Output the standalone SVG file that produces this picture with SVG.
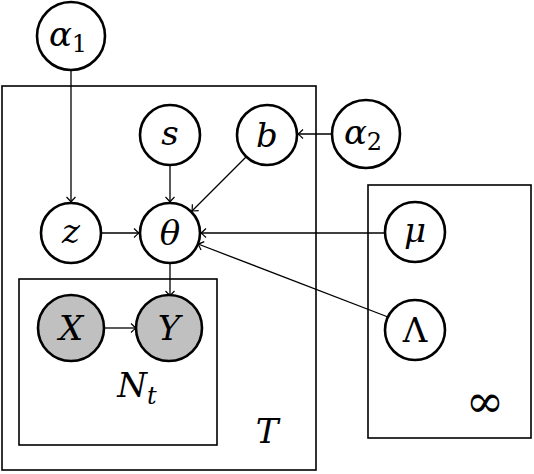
<svg xmlns="http://www.w3.org/2000/svg" width="534" height="474" viewBox="0 0 534 474">
<defs>
<style>
.plate{fill:none;stroke:#000;stroke-width:1.6}
.node{fill:#fff;stroke:#000;stroke-width:2.6}
.obs{fill:#c0c0c0;stroke:#000;stroke-width:2.6}
.edge{fill:none;stroke:#000;stroke-width:1.3}
text{font-family:"DejaVu Serif","Liberation Serif",serif}
.m{font-style:italic;font-size:34px;text-anchor:middle}
.u{font-size:34px;text-anchor:middle}
.inf{font-size:46px;text-anchor:middle}
.sub{font-size:24px;font-style:normal}
.subi{font-size:24px;font-style:italic}
</style>
<marker id="arr" markerWidth="12" markerHeight="12" refX="0" refY="0" viewBox="-6 -6 12 12" orient="auto" markerUnits="userSpaceOnUse">
<path d="M -5 -4.5 Q -1.5 -1 0 0 Q -1.5 1 -5 4.5" fill="none" stroke="#000" stroke-width="1.2"/>
</marker>
</defs>
<g id="plates">
<rect id="plate-T" class="plate" x="2" y="86" width="314" height="384"/>
<rect id="plate-Nt" class="plate" x="19" y="279" width="198" height="166"/>
<rect id="plate-inf" class="plate" x="368" y="185" width="163" height="253"/>
<text class="m" x="267" y="443">T</text>
<text class="m" x="137" y="397">N<tspan class="subi" dy="7">t</tspan></text>
<text class="inf" x="485" y="417">∞</text>
</g>
<g id="connectors">
<line class="edge" x1="71" y1="70" x2="71" y2="202" marker-end="url(#arr)"/>
<line class="edge" x1="170" y1="165" x2="170" y2="202" marker-end="url(#arr)"/>
<line class="edge" x1="246" y1="157" x2="192" y2="211" marker-end="url(#arr)"/>
<line class="edge" x1="332" y1="134" x2="298" y2="134" marker-end="url(#arr)"/>
<line class="edge" x1="101" y1="233" x2="139" y2="233" marker-end="url(#arr)"/>
<line class="edge" x1="385" y1="233" x2="201" y2="233" marker-end="url(#arr)"/>
<line class="edge" x1="388" y1="317" x2="198" y2="244" marker-end="url(#arr)"/>
<line class="edge" x1="170" y1="263" x2="170" y2="296" marker-end="url(#arr)"/>
<line class="edge" x1="104" y1="328" x2="136" y2="328" marker-end="url(#arr)"/>
</g>
<g id="node-alpha1"><circle class="node" cx="71" cy="36" r="34"/><text class="m" x="68" y="46">α<tspan class="sub" dy="6">1</tspan></text></g>
<g id="node-s"><circle class="node" cx="170" cy="135" r="30"/><text class="m" x="170" y="145">s</text></g>
<g id="node-b"><circle class="node" cx="267" cy="135" r="30"/><text class="m" x="267" y="147">b</text></g>
<g id="node-alpha2"><circle class="node" cx="366" cy="134" r="34"/><text class="m" x="363" y="144">α<tspan class="sub" dy="6">2</tspan></text></g>
<g id="node-z"><circle class="node" cx="71" cy="233" r="30"/><text class="m" x="71" y="243">z</text></g>
<g id="node-theta"><circle class="node" cx="170" cy="233" r="30"/><text class="m" x="170" y="245">θ</text></g>
<g id="node-mu"><circle class="node" cx="415" cy="232" r="30"/><text class="m" x="415" y="242">μ</text></g>
<g id="node-Lambda"><circle class="node" cx="415" cy="330" r="30"/><text class="u" x="415" y="342">Λ</text></g>
<g id="node-X"><circle class="obs" cx="71" cy="328" r="33"/><text class="m" x="71" y="340">X</text></g>
<g id="node-Y"><circle class="obs" cx="169" cy="328" r="33"/><text class="m" x="169" y="340">Y</text></g>
</svg>
